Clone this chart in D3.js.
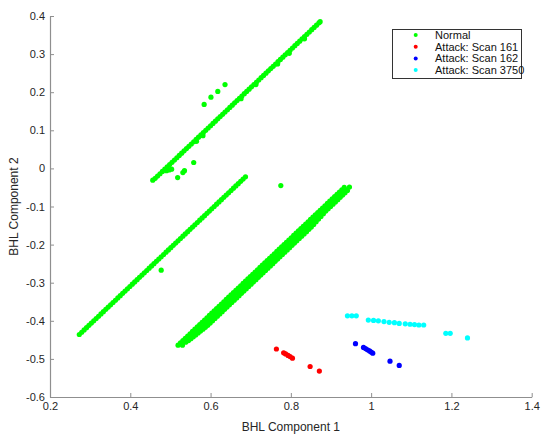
<!DOCTYPE html>
<html><head><meta charset="utf-8">
<script src="https://cdn.jsdelivr.net/npm/d3@7"></script>
<style>
html,body{margin:0;padding:0;background:#fff;}
svg{display:block;}
text{font-family:Arial,"Liberation Sans",sans-serif;}
</style></head>
<body>
<div id="chart"></div>
<script>
// ---------- data ----------
const seriesNames = ["Normal", "Attack: Scan 161", "Attack: Scan 162", "Attack: Scan 3750"];
const xTicks = [0.2, 0.4, 0.6, 0.8, 1, 1.2, 1.4];
const yTicks = [0.4, 0.3, 0.2, 0.1, 0, -0.1, -0.2, -0.3, -0.4, -0.5, -0.6];

// Normal: upper diagonal strand
const normalUpper = [
[0.456,-0.031],[0.462,-0.026],[0.468,-0.020],[0.474,-0.014],[0.480,-0.008],[0.486,-0.002],[0.492,0.004],[0.498,0.010],
[0.504,0.016],[0.510,0.022],[0.516,0.028],[0.522,0.034],[0.528,0.040],[0.534,0.046],[0.540,0.052],[0.546,0.058],
[0.552,0.064],[0.558,0.070],[0.564,0.076],[0.570,0.082],[0.576,0.088],[0.582,0.094],[0.588,0.100],[0.594,0.106],
[0.600,0.112],[0.606,0.118],[0.612,0.124],[0.618,0.130],[0.624,0.136],[0.630,0.142],[0.636,0.148],[0.642,0.154],
[0.648,0.160],[0.654,0.166],[0.660,0.172],[0.666,0.178],[0.672,0.184],[0.678,0.190],[0.684,0.196],[0.690,0.202],
[0.696,0.208],[0.702,0.214],[0.708,0.220],[0.714,0.226],[0.720,0.232],[0.726,0.238],[0.732,0.244],[0.738,0.250],
[0.744,0.256],[0.750,0.262],[0.756,0.268],[0.762,0.274],[0.768,0.280],[0.774,0.286],[0.780,0.292],[0.786,0.298],
[0.792,0.304],[0.798,0.310],[0.804,0.316],[0.810,0.322],[0.816,0.328],[0.822,0.334],[0.828,0.340],[0.834,0.346],
[0.840,0.352],[0.846,0.358],[0.852,0.364],[0.858,0.370],[0.864,0.376],[0.870,0.382],[0.873,0.385]
];
// Normal: middle diagonal strand
const normalMiddle = [
[0.273,-0.436],[0.279,-0.430],[0.285,-0.424],[0.291,-0.418],[0.297,-0.412],[0.303,-0.406],[0.309,-0.400],[0.315,-0.394],
[0.321,-0.388],[0.327,-0.382],[0.333,-0.376],[0.339,-0.370],[0.345,-0.364],[0.351,-0.358],[0.357,-0.352],[0.363,-0.346],
[0.369,-0.340],[0.375,-0.334],[0.381,-0.328],[0.387,-0.322],[0.393,-0.316],[0.399,-0.310],[0.405,-0.304],[0.411,-0.298],
[0.417,-0.292],[0.423,-0.286],[0.429,-0.280],[0.435,-0.274],[0.441,-0.268],[0.447,-0.262],[0.453,-0.256],[0.459,-0.250],
[0.465,-0.244],[0.471,-0.238],[0.477,-0.232],[0.483,-0.226],[0.489,-0.220],[0.495,-0.214],[0.501,-0.208],[0.507,-0.202],
[0.513,-0.196],[0.519,-0.190],[0.525,-0.184],[0.531,-0.178],[0.537,-0.172],[0.543,-0.166],[0.549,-0.160],[0.555,-0.154],
[0.561,-0.148],[0.567,-0.142],[0.573,-0.136],[0.579,-0.130],[0.585,-0.124],[0.591,-0.118],[0.597,-0.112],[0.603,-0.106],
[0.609,-0.100],[0.615,-0.094],[0.621,-0.088],[0.627,-0.082],[0.633,-0.076],[0.639,-0.070],[0.645,-0.064],[0.651,-0.058],
[0.657,-0.052],[0.663,-0.046],[0.669,-0.040],[0.675,-0.034],[0.681,-0.028],[0.687,-0.022]
];
// Normal: lower thick band (three rows of points)
const normalBandA = [
[0.519,-0.464],[0.525,-0.458],[0.531,-0.452],[0.537,-0.446],[0.543,-0.440],[0.549,-0.434],[0.555,-0.428],[0.561,-0.422],
[0.567,-0.416],[0.573,-0.410],[0.579,-0.404],[0.585,-0.398],[0.591,-0.392],[0.597,-0.386],[0.603,-0.380],[0.609,-0.374],
[0.615,-0.368],[0.621,-0.362],[0.627,-0.356],[0.633,-0.350],[0.639,-0.344],[0.645,-0.338],[0.651,-0.332],[0.657,-0.326],
[0.663,-0.320],[0.669,-0.314],[0.675,-0.308],[0.681,-0.302],[0.687,-0.296],[0.693,-0.290],[0.699,-0.284],[0.705,-0.278],
[0.711,-0.272],[0.717,-0.266],[0.723,-0.260],[0.729,-0.254],[0.735,-0.248],[0.741,-0.242],[0.747,-0.236],[0.753,-0.230],
[0.759,-0.224],[0.765,-0.218],[0.771,-0.212],[0.777,-0.206],[0.783,-0.200],[0.789,-0.194],[0.795,-0.188],[0.801,-0.182],
[0.807,-0.176],[0.813,-0.170],[0.819,-0.164],[0.825,-0.158],[0.831,-0.152],[0.837,-0.146],[0.843,-0.140],[0.849,-0.134],
[0.855,-0.128],[0.861,-0.122],[0.867,-0.116],[0.873,-0.110],[0.879,-0.104],[0.885,-0.098],[0.891,-0.092],[0.897,-0.086],
[0.903,-0.080],[0.909,-0.074],[0.915,-0.068],[0.921,-0.062],[0.927,-0.056],[0.933,-0.050]
];
const normalBandB = [
[0.530,-0.464],[0.538,-0.456],[0.546,-0.448],[0.554,-0.440],[0.562,-0.432],[0.570,-0.424],[0.578,-0.416],[0.586,-0.408],
[0.594,-0.400],[0.602,-0.392],[0.610,-0.384],[0.618,-0.376],[0.626,-0.368],[0.634,-0.360],[0.642,-0.352],[0.650,-0.344],
[0.658,-0.336],[0.666,-0.328],[0.674,-0.320],[0.682,-0.312],[0.690,-0.304],[0.698,-0.296],[0.706,-0.288],[0.714,-0.280],
[0.722,-0.272],[0.730,-0.264],[0.738,-0.256],[0.746,-0.248],[0.754,-0.240],[0.762,-0.232],[0.770,-0.224],[0.778,-0.216],
[0.786,-0.208],[0.794,-0.200],[0.802,-0.192],[0.810,-0.184],[0.818,-0.176],[0.826,-0.168],[0.834,-0.160],[0.842,-0.152],
[0.850,-0.144],[0.858,-0.136],[0.866,-0.128],[0.874,-0.120],[0.882,-0.112],[0.890,-0.104],[0.898,-0.096],[0.906,-0.088],
[0.914,-0.080],[0.922,-0.072],[0.930,-0.064],[0.938,-0.056],[0.946,-0.049]
];
const normalBandC = [
[0.545,-0.452],[0.551,-0.447],[0.557,-0.442],[0.563,-0.437],[0.569,-0.432],[0.575,-0.427],[0.581,-0.422],[0.587,-0.417],
[0.593,-0.412],[0.599,-0.406],[0.605,-0.400],[0.611,-0.394],[0.617,-0.388],[0.623,-0.382],[0.629,-0.376],[0.635,-0.370],
[0.641,-0.364],[0.647,-0.358],[0.653,-0.352],[0.659,-0.346],[0.665,-0.340],[0.671,-0.334],[0.677,-0.328],[0.683,-0.322],
[0.689,-0.316],[0.695,-0.310],[0.701,-0.304],[0.707,-0.298],[0.713,-0.292],[0.719,-0.286],[0.725,-0.280],[0.731,-0.274],
[0.737,-0.268],[0.743,-0.262],[0.749,-0.256],[0.755,-0.250],[0.761,-0.244],[0.767,-0.238],[0.773,-0.232],[0.779,-0.226],
[0.785,-0.220],[0.791,-0.214],[0.797,-0.208],[0.803,-0.202],[0.809,-0.196],[0.815,-0.190],[0.821,-0.184],[0.827,-0.178],
[0.833,-0.172],[0.839,-0.166],[0.845,-0.160],[0.851,-0.154],[0.857,-0.147],[0.863,-0.140],[0.869,-0.133],[0.875,-0.126],
[0.881,-0.119],[0.887,-0.112],[0.893,-0.106],[0.899,-0.100],[0.905,-0.094],[0.911,-0.088],[0.917,-0.082],[0.923,-0.076],
[0.929,-0.070],[0.935,-0.064],[0.941,-0.058]
];
// Normal: scattered points off the strands
const normalScatter = [
[0.584,0.168],[0.601,0.187],[0.618,0.202],[0.636,0.220],
[0.518,-0.024],[0.531,-0.011],[0.535,-0.006],[0.558,0.0155],
[0.490,-0.006],[0.497,-0.004],[0.503,-0.002],[0.565,0.071],[0.581,0.086],
[0.676,0.183],[0.713,0.220],[0.767,0.274],[0.796,0.302],[0.834,0.340],
[0.477,-0.267],[0.775,-0.045]
];
const scan161 = [
[0.764,-0.474],[0.782,-0.484],[0.787,-0.487],[0.793,-0.491],[0.798,-0.494],[0.804,-0.498],[0.848,-0.520],[0.871,-0.532]
];
const scan162 = [
[0.961,-0.460],[0.981,-0.470],[0.986,-0.473],[0.991,-0.476],[0.996,-0.479],[1.000,-0.482],[1.004,-0.485],
[1.047,-0.506],[1.070,-0.517]
];
const scan3750 = [
[0.941,-0.387],[0.952,-0.387],[0.963,-0.387],
[0.993,-0.398],[1.006,-0.399],[1.018,-0.400],[1.032,-0.402],[1.045,-0.404],[1.058,-0.405],
[1.070,-0.407],[1.085,-0.408],[1.097,-0.409],[1.108,-0.410],[1.119,-0.411],[1.131,-0.411],
[1.186,-0.433],[1.197,-0.433],[1.240,-0.445]
];

const normalAll = [].concat(normalUpper, normalMiddle, normalBandA, normalBandB, normalBandC, normalScatter);
const groups = [
  {name: seriesNames[0], pts: normalAll, color: "#00ff00"},
  {name: seriesNames[1], pts: scan161, color: "#ff0000"},
  {name: seriesNames[2], pts: scan162, color: "#0000ff"},
  {name: seriesNames[3], pts: scan3750, color: "#00ffff"}
];

// ---------- chart ----------
const W = 550, H = 438;
const svg = d3.select("#chart").append("svg").attr("width", W).attr("height", H);

const x = d3.scaleLinear().domain([0.2, 1.4]).range([50, 531.7]);
const y = d3.scaleLinear().domain([-0.6, 0.4]).range([397, 16]);

const axisColor = "#8f8f8f";
const fmt = d => (d === 0 ? "0" : String(+d.toFixed(1)));

const gx = svg.append("g").attr("transform", `translate(0,${y(-0.6)})`)
  .call(d3.axisBottom(x).tickValues(xTicks).tickFormat(fmt).tickSizeInner(-4).tickSizeOuter(0).tickPadding(5));
const gy = svg.append("g").attr("transform", `translate(${x(0.2)},0)`)
  .call(d3.axisLeft(y).tickValues(yTicks).tickFormat(fmt).tickSizeInner(-4).tickSizeOuter(0).tickPadding(5));
[gx, gy].forEach(g => {
  g.select(".domain").attr("stroke", axisColor).attr("stroke-width", 1.2);
  g.selectAll(".tick line").attr("stroke", axisColor);
  g.selectAll(".tick text").attr("fill", "#262626").style("font-size", "11px")
    .style("font-family", "Arial, 'Liberation Sans', sans-serif");
});

// points
groups.forEach(gr => {
  svg.append("g").selectAll("circle").data(gr.pts).join("circle")
    .attr("cx", d => x(d[0])).attr("cy", d => y(d[1])).attr("r", 2.6)
    .attr("fill", gr.color);
});

// axis titles
svg.append("text").attr("x", (x(0.2) + x(1.4)) / 2).attr("y", 431)
  .attr("text-anchor", "middle").style("font-size", "12px").attr("fill", "#262626")
  .text("BHL Component 1");
svg.append("text").attr("transform", `translate(18,${(y(0.4) + y(-0.6)) / 2}) rotate(-90)`)
  .attr("text-anchor", "middle").style("font-size", "12px").attr("fill", "#262626")
  .text("BHL Component 2");

// legend
const lg = svg.append("g");
lg.append("rect").attr("x", 392.5).attr("y", 29.5).attr("width", 129).attr("height", 49)
  .attr("fill", "#fff").attr("stroke", "#333").attr("stroke-width", 1);
groups.forEach((gr, i) => {
  const yy = 35 + i * 11.7;
  lg.append("circle").attr("cx", 415.7).attr("cy", yy).attr("r", 2).attr("fill", gr.color);
  lg.append("text").attr("x", 435).attr("y", yy + 4).style("font-size", "11px").attr("fill", "#111")
    .text(gr.name);
});
</script>
</body></html>
